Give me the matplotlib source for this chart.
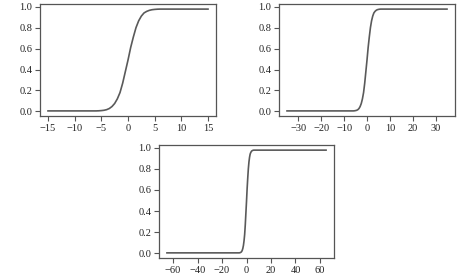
import matplotlib
matplotlib.use("Agg")
import matplotlib.pyplot as plt

plt.rcParams["font.family"] = ["Liberation Serif", "DejaVu Serif"]

# transition region shared by all three panels
core_x = [-6, -5.5, -5, -4.5, -4, -3.5, -3, -2.5, -2, -1.5, -1, -0.5, 0,
          0.5, 1, 1.5, 2, 2.5, 3, 3.5, 4, 4.5, 5, 5.5, 6]
core_y = [0.005, 0.006, 0.008, 0.011, 0.017, 0.028, 0.047, 0.076, 0.12, 0.18,
          0.27, 0.38, 0.49, 0.61, 0.71, 0.80, 0.865, 0.91, 0.94, 0.955,
          0.965, 0.971, 0.974, 0.976, 0.977]

# x extent and x ticks of each panel
extents = [15, 35, 65]
xticks = [
    [-15, -10, -5, 0, 5, 10, 15],
    [-30, -20, -10, 0, 10, 20, 30],
    [-60, -40, -20, 0, 20, 40, 60],
]
yticks = [0.0, 0.2, 0.4, 0.6, 0.8, 1.0]
low_level = 0.005
high_level = 0.977

# axes boxes in pixels: left, right, top, bottom
W, H = 474, 278
boxes = [(40, 216, 4, 116), (279, 455, 4, 116), (159, 334, 145, 258)]

fig = plt.figure(figsize=(W / 100, H / 100), dpi=100)
line_col = "#5a5a5a"
spine_col = "#555555"

for ext, ticks, (l, r, t, b) in zip(extents, xticks, boxes):
    ax = fig.add_axes([l / W, 1 - b / H, (r - l) / W, (b - t) / H])
    xs = [-ext] + core_x + [ext]
    ys = [low_level] + core_y + [high_level]
    ax.plot(xs, ys, color=line_col, lw=1.2)
    ax.set_xticks(ticks)
    ax.set_yticks(yticks)
    for s in ax.spines.values():
        s.set_color(spine_col)
        s.set_linewidth(0.9)
    ax.tick_params(labelsize=7.5, length=3.5, width=0.8, color=spine_col,
                   labelcolor="#222222", pad=2)

fig.savefig("out.png", dpi=100)
